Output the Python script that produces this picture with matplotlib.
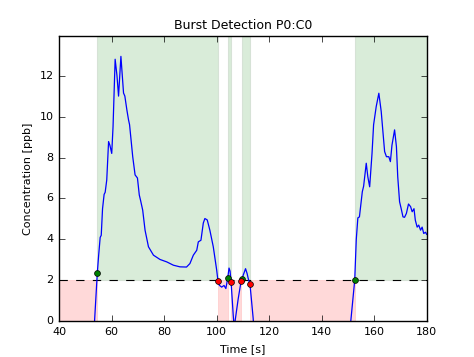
import matplotlib
matplotlib.use("Agg")
import matplotlib.pyplot as plt

# concentration trace
time = [53.0, 54.5, 55.0, 55.6, 56.0, 56.5, 57.1, 57.5, 58.1, 58.8, 59.3, 60.0,
        60.5, 61.3, 62.0, 62.6, 63.5, 64.5, 65.0, 65.8, 66.4, 66.8, 68.0, 68.9,
        69.8, 70.5, 71.0, 71.8, 72.7, 74.0, 75.9, 78.4, 81.0, 83.5, 86.0, 88.5,
        89.8, 91.1, 92.4, 93.0, 94.0, 94.9, 95.5, 96.4, 97.4, 98.7, 100.0, 100.5,
        101.0, 101.9, 102.8, 103.5, 104.2, 104.7, 105.1, 105.5, 106.3, 106.6,
        107.0, 108.2, 109.3, 109.6, 110.1, 111.0, 111.6, 112.0, 112.7, 113.9,
        114.5, 150.5, 151.1, 152.6, 153.2, 153.8, 154.4, 155.5, 156.0, 157.0,
        157.6, 158.3, 159.2, 159.8, 160.8, 161.8, 162.7, 163.4, 164.0, 164.7,
        165.6, 166.2, 166.8, 167.8, 168.5, 169.0, 169.7, 170.3, 171.0, 171.6,
        172.3, 173.1, 173.9, 174.5, 175.2, 175.7, 176.4, 177.0, 177.7, 178.3,
        178.9, 179.6, 180.0]
conc = [-1.0, 2.35, 3.2, 4.1, 4.2, 5.5, 6.2, 6.3, 6.9, 8.78, 8.6, 8.2,
        9.5, 12.8, 12.0, 11.0, 12.94, 11.15, 11.0, 10.3, 9.84, 9.6, 8.04, 7.15,
        7.0, 6.17, 5.9, 5.43, 4.45, 3.64, 3.23, 3.02, 2.9, 2.74, 2.66, 2.65,
        2.82, 3.23, 3.47, 3.88, 3.96, 4.8, 5.02, 4.95, 4.45, 3.64, 2.5, 1.96,
        1.76, 1.67, 1.75, 1.6, 2.1, 2.6, 2.45, 1.9, 0.3, -0.2,
        0.0, 1.1, 1.96, 2.05, 2.25, 2.57, 2.33, 2.1, 1.8, 0.15,
        -1.0, -1.0, 0.0, 2.0, 4.0, 5.05, 5.1, 6.33, 6.6, 7.72,
        7.06, 6.57, 8.2, 9.6, 10.49, 11.14, 10.25, 9.19, 8.29, 8.04,
        8.04, 7.8, 8.6, 9.35, 8.53, 7.06, 5.84, 5.51, 5.1, 5.08,
        5.27, 5.73, 5.6, 5.35, 5.5, 4.94, 4.6, 4.7, 4.45, 4.6,
        4.29, 4.35, 4.25]

threshold = 2.0

# bursts (above threshold) and gaps (below threshold)
burst_start = [54.5, 104.2, 109.6, 152.6]
burst_end = [100.5, 105.5, 112.7, 180.0]
gap_start = [40.0, 100.5, 105.5, 112.7]
gap_end = [54.5, 104.2, 109.3, 152.6]

# detected onsets / offsets
onset_t = [54.5, 104.2, 109.6, 152.6]
onset_c = [2.35, 2.1, 2.05, 2.0]
offset_t = [100.5, 105.5, 109.3, 112.7]
offset_c = [1.96, 1.9, 1.96, 1.8]

plt.style.use("classic")
plt.rcParams["font.size"] = 8

fig = plt.figure(figsize=(4.74, 3.57), dpi=100)
ax = fig.add_subplot(111)

ymax = 13.95
for s, e in zip(burst_start, burst_end):
    ax.axvspan(s, e, ymin=threshold / ymax, ymax=1, facecolor="g",
               edgecolor="#5a7a5a", linewidth=0.8, alpha=0.15)
for s, e in zip(gap_start, gap_end):
    ax.axvspan(s, e, ymin=0, ymax=threshold / ymax, facecolor="r",
               edgecolor="r", linewidth=0.5, alpha=0.15)

ax.axhline(threshold, color="k", linestyle="--", linewidth=0.8)
ax.plot(time, conc, "b-", linewidth=0.9)
ax.plot(onset_t, onset_c, "go", markersize=4.2, markeredgewidth=0.5)
ax.plot(offset_t, offset_c, "ro", markersize=4.2, markeredgewidth=0.5)

ax.set_xlim(40, 180)
ax.set_ylim(0, ymax)
ax.set_xticks(range(40, 181, 20))
ax.set_yticks(range(0, 13, 2))
ax.set_xlabel("Time [s]")
ax.set_ylabel("Concentration [ppb]")
ax.set_title("Burst Detection P0:C0", fontsize=9)

fig.subplots_adjust(left=0.125, right=0.9, bottom=0.1, top=0.9)
fig.savefig("out.png", dpi=100, facecolor="white")
